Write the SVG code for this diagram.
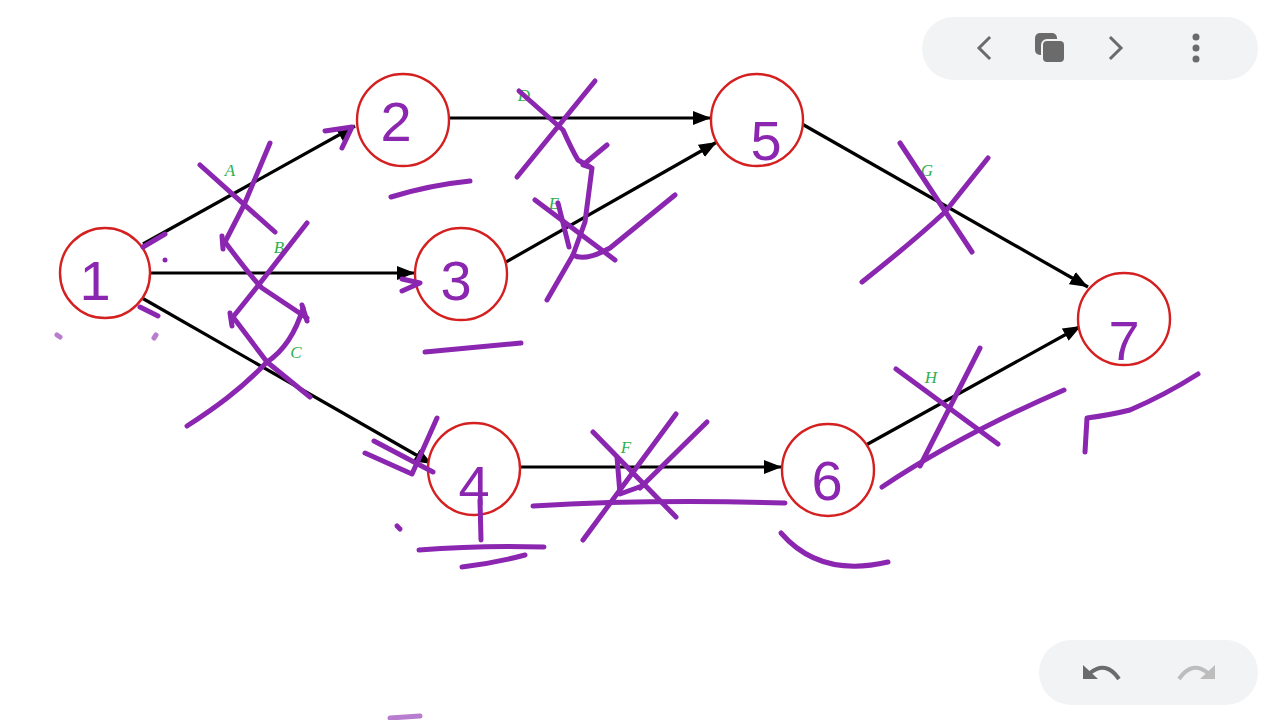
<svg xmlns="http://www.w3.org/2000/svg" width="1280" height="720" viewBox="0 0 1280 720">
<defs>
<marker id="ah" markerUnits="userSpaceOnUse" markerWidth="18" markerHeight="14" refX="18" refY="7" orient="auto">
<path d="M0,0 L18,7 L0,14 z" fill="#000"/>
</marker>
<style>
.node circle{fill:#fff;stroke:#d42020;stroke-width:2.4}
.num{font-family:"Liberation Sans",Arial,sans-serif;font-size:56px;fill:#8b26b0;text-anchor:middle}
.edge{stroke:#000;stroke-width:3.2;fill:none;marker-end:url(#ah)}
.lbl{font-family:"Liberation Serif","Times New Roman",serif;font-style:italic;font-size:17px;fill:#2fb04e;text-anchor:middle}
.ink{fill:none;stroke:#8b26b0;stroke-width:5;stroke-linecap:round;stroke-linejoin:round}
.ic{fill:none;stroke:#6b6b6b;stroke-width:3;stroke-linecap:square}
</style>
</defs>
<rect width="1280" height="720" fill="#fff"/>

<g id="connectors">
<path class="edge" d="M143,244 L355,126"/>
<path class="edge" d="M151,273 L415,273"/>
<path class="edge" d="M142,298 L432,464"/>
<path class="edge" d="M449,118 L711,118"/>
<path class="edge" d="M506,262 L717,142"/>
<path class="edge" d="M520,467 L782,467"/>
<path class="edge" d="M802,124 L1088,287"/>
<path class="edge" d="M866,445 L1081,326"/>
</g>

<g id="edge-labels">
<text class="lbl" x="230" y="176">A</text>
<text class="lbl" x="279" y="253">B</text>
<text class="lbl" x="296" y="358">C</text>
<text class="lbl" x="524" y="101">D</text>
<text class="lbl" x="554" y="209">E</text>
<text class="lbl" x="626" y="453">F</text>
<text class="lbl" x="927" y="176">G</text>
<text class="lbl" x="931" y="383">H</text>
</g>

<g id="node1" class="node"><circle cx="105" cy="273" r="45"/><text class="num" x="95" y="300">1</text></g>
<g id="node2" class="node"><circle cx="403" cy="120" r="46"/><text class="num" x="396" y="141">2</text></g>
<g id="node3" class="node"><circle cx="461" cy="274" r="46"/><text class="num" x="456" y="300">3</text></g>
<g id="node4" class="node"><circle cx="474" cy="469" r="46"/><text class="num" x="474" y="505">4</text></g>
<g id="node5" class="node"><circle cx="757" cy="120" r="46"/><text class="num" x="766" y="160">5</text></g>
<g id="node6" class="node"><circle cx="828" cy="470" r="46"/><text class="num" x="827" y="500">6</text></g>
<g id="node7" class="node"><circle cx="1124" cy="319" r="46"/><text class="num" x="1124" y="360">7</text></g>

<g id="annotations">
<path class="ink" d="M200,165 L275,232"/>
<path class="ink" d="M270,143 L244,205 L225,242 C240,262 252,278 262,288 L307,318"/>
<path class="ink" d="M222,236 L223,249"/>
<path class="ink" d="M307,223 L257,287 L233,317 L267,362 L310,397"/>
<path class="ink" d="M230,313 L232,326"/>
<path class="ink" d="M302,305 L307,321"/>
<path class="ink" d="M303,308 C295,335 282,352 267,362 C240,390 215,408 187,426"/>
<path class="ink" d="M143,247 L165,234"/>
<path class="ink" d="M140,307 L158,316"/>
<circle cx="165" cy="260" r="2.5" fill="#8b26b0"/>
<path class="ink" d="M57,335 L60,337" stroke-width="2" opacity="0.6"/>
<path class="ink" d="M154,338 L156,335" stroke-width="2" opacity="0.6"/>
<path class="ink" d="M325,131 L352,127 L342,148"/>
<path class="ink" d="M391,197 Q430,185 470,181"/>
<path class="ink" d="M402,279 L420,283 L402,291"/>
<path class="ink" d="M425,352 L521,343"/>

<path class="ink" d="M519,91 L563,130 Q572,150 578,160 L590,167"/>
<path class="ink" d="M595,81 L517,177"/>
<path class="ink" d="M607,145 L583,165 L592,168 L585,222 L573,255 Q585,262 610,248 L675,195"/>
<path class="ink" d="M573,255 L547,300"/>
<path class="ink" d="M535,200 L615,260"/>
<path class="ink" d="M558,203 L569,247"/>

<path class="ink" d="M593,432 L676,517"/>
<path class="ink" d="M676,414 L583,540"/>
<path class="ink" d="M707,422 L640,488"/>
<path class="ink" d="M617,457 L620,494 L642,486"/>
<path class="ink" d="M533,506 Q650,499 785,503"/>

<path class="ink" d="M365,453 L412,474 L437,418"/>
<path class="ink" d="M374,441 L433,472"/>
<path class="ink" d="M480,500 L481,540"/>
<path class="ink" d="M419,550 Q480,545 544,547"/>
<path class="ink" d="M462,567 Q495,563 525,555"/>
<path class="ink" d="M397,526 L400,529" stroke-width="3"/>

<path class="ink" d="M781,533 Q820,578 888,562"/>
<path class="ink" d="M896,369 L998,444"/>
<path class="ink" d="M980,348 L920,466"/>
<path class="ink" d="M882,487 Q960,435 1064,390"/>

<path class="ink" d="M900,143 L972,252"/>
<path class="ink" d="M988,158 L945,212 Q915,240 862,282"/>

<path class="ink" d="M1085,452 L1087,418 Q1110,415 1130,410 Q1165,395 1198,374"/>
<path class="ink" d="M390,718 L420,716" stroke-width="2.5" opacity="0.6"/>
</g>

<g id="toolbar-top">
<rect x="922" y="17" width="336" height="63" rx="31.5" fill="#f1f3f4"/>
<polyline class="ic" points="989,38 979,48 989,58"/>
<rect x="1035" y="33" width="22" height="22" rx="5" fill="#6b6b6b"/>
<rect x="1042" y="40" width="23" height="23" rx="5" fill="#6b6b6b" stroke="#f1f3f4" stroke-width="2"/>
<polyline class="ic" points="1111,38 1121,48 1111,58"/>
<circle cx="1196" cy="37" r="3.5" fill="#6b6b6b"/>
<circle cx="1196" cy="48" r="3.5" fill="#6b6b6b"/>
<circle cx="1196" cy="59" r="3.5" fill="#6b6b6b"/>
</g>

<g id="toolbar-bottom">
<rect x="1039" y="640" width="219" height="65" rx="32.5" fill="#f1f3f4"/>
<path d="M1090,673 Q1106,660 1119,679" fill="none" stroke="#6b6b6b" stroke-width="4"/>
<path d="M1083,665 L1083,679 L1098,679 z" fill="#6b6b6b"/>
<path d="M1208,673 Q1192,660 1179,679" fill="none" stroke="#bdbdbd" stroke-width="4"/>
<path d="M1215,665 L1215,679 L1200,679 z" fill="#bdbdbd"/>
</g>
</svg>
